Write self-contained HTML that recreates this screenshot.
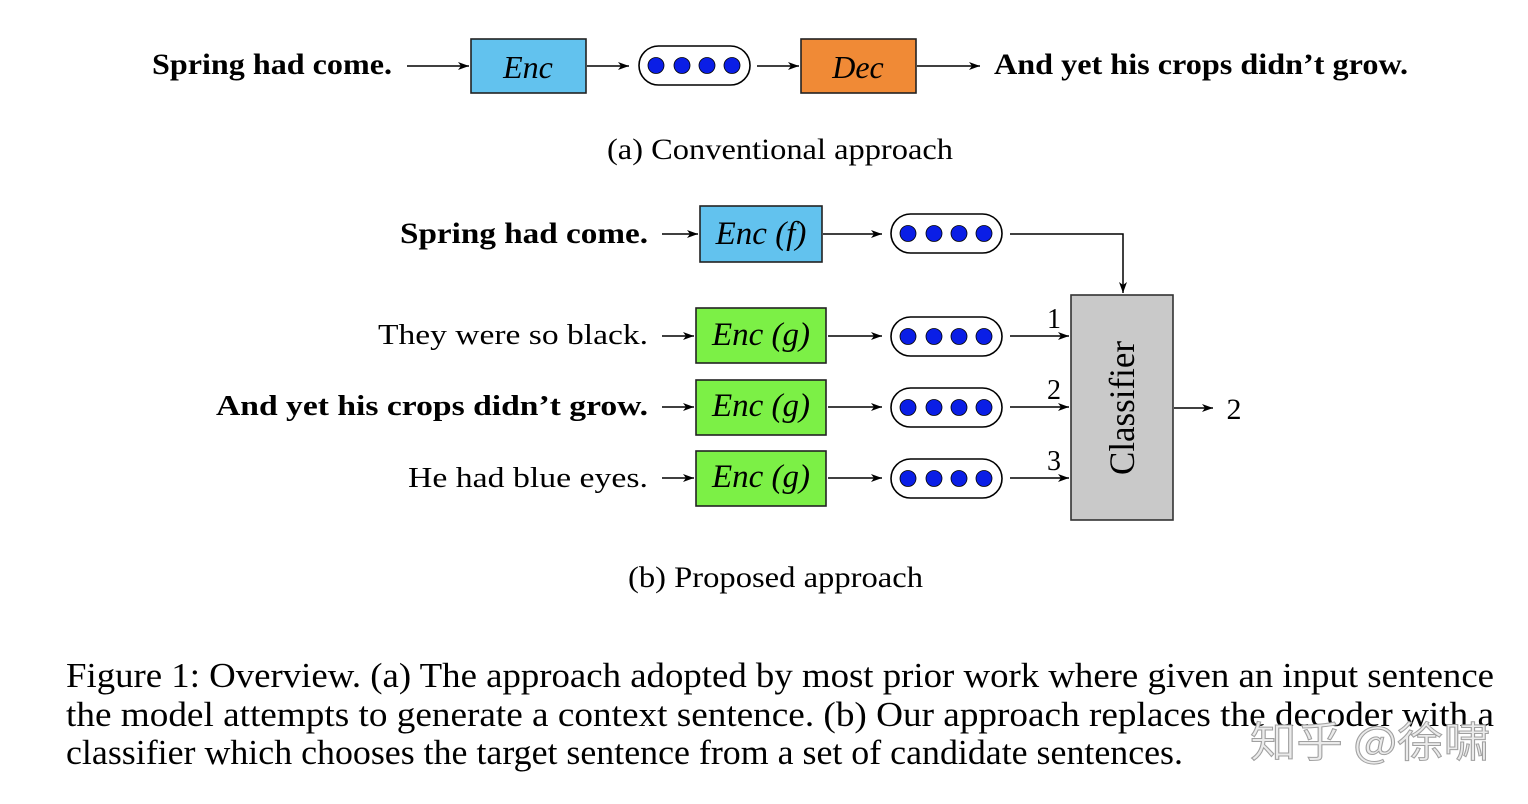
<!DOCTYPE html>
<html><head><meta charset="utf-8"><style>
html,body{margin:0;padding:0;background:#fff;}
svg{display:block}
text{font-family:"Liberation Serif",serif;fill:#000}
.b{font-weight:bold}
.i{font-style:italic}
</style></head><body>
<svg width="1528" height="804" viewBox="0 0 1528 804" xmlns="http://www.w3.org/2000/svg">
<defs>
<marker id="ah" markerWidth="12" markerHeight="10" refX="11" refY="5" orient="auto" markerUnits="userSpaceOnUse">
<path d="M0,1 L11,5 L0,9 L3,5 Z" fill="#000"/>
</marker>
<g id="pill">
<rect x="0" y="0" width="111" height="39" rx="19.5" fill="#fff" stroke="#000" stroke-width="1.6"/>
<circle cx="17" cy="19.5" r="8" fill="#0a1ee6" stroke="#000" stroke-width="0.8"/>
<circle cx="43" cy="19.5" r="8" fill="#0a1ee6" stroke="#000" stroke-width="0.8"/>
<circle cx="68" cy="19.5" r="8" fill="#0a1ee6" stroke="#000" stroke-width="0.8"/>
<circle cx="93" cy="19.5" r="8" fill="#0a1ee6" stroke="#000" stroke-width="0.8"/>
</g>
</defs>
<g stroke="#000" stroke-width="1.5" fill="none" marker-end="url(#ah)">
<line x1="407" y1="66" x2="469" y2="66"/>
<line x1="587" y1="66" x2="629" y2="66"/>
<line x1="757" y1="66" x2="799" y2="66"/>
<line x1="917" y1="66" x2="980" y2="66"/>
<line x1="662" y1="234" x2="698" y2="234"/>
<line x1="823" y1="234" x2="882" y2="234"/>
<polyline points="1010,234 1123,234 1123,293"/>
<line x1="662" y1="336" x2="694" y2="336"/>
<line x1="662" y1="407" x2="694" y2="407"/>
<line x1="662" y1="478" x2="694" y2="478"/>
<line x1="828" y1="336" x2="882" y2="336"/>
<line x1="828" y1="407" x2="882" y2="407"/>
<line x1="828" y1="478" x2="882" y2="478"/>
<line x1="1010" y1="336" x2="1069" y2="336"/>
<line x1="1010" y1="407" x2="1069" y2="407"/>
<line x1="1010" y1="478" x2="1069" y2="478"/>
<line x1="1174" y1="408" x2="1213" y2="408"/>
</g>
<text x="152" y="74" font-size="30" class="b" textLength="240" lengthAdjust="spacingAndGlyphs">Spring had come.</text>
<rect x="471" y="39" width="115" height="54" fill="#62c2ee" stroke="#222" stroke-width="1.6"/>
<text x="528" y="78" font-size="32" class="i" text-anchor="middle">Enc</text>
<use href="#pill" x="639" y="46"/>
<rect x="801" y="39" width="115" height="54" fill="#f08a36" stroke="#222" stroke-width="1.6"/>
<text x="858" y="78" font-size="32" class="i" text-anchor="middle">Dec</text>
<text x="994" y="74" font-size="30" class="b" textLength="414" lengthAdjust="spacingAndGlyphs">And yet his crops didn’t grow.</text>
<text x="607" y="159" font-size="30" textLength="346" lengthAdjust="spacingAndGlyphs">(a) Conventional approach</text>

<text x="400" y="243" font-size="30" class="b" textLength="248" lengthAdjust="spacingAndGlyphs">Spring had come.</text>
<rect x="700" y="206" width="122" height="56" fill="#62c2ee" stroke="#222" stroke-width="1.6"/>
<text x="761" y="244" font-size="33" class="i" text-anchor="middle">Enc (f)</text>
<use href="#pill" x="891" y="214"/>

<text x="378" y="344" font-size="29" textLength="270" lengthAdjust="spacingAndGlyphs">They were so black.</text>
<text x="216" y="415" font-size="29" class="b" textLength="432" lengthAdjust="spacingAndGlyphs">And yet his crops didn’t grow.</text>
<text x="408" y="487" font-size="29" textLength="240" lengthAdjust="spacingAndGlyphs">He had blue eyes.</text>

<rect x="696" y="308" width="130" height="55" fill="#7cf046" stroke="#222" stroke-width="1.6"/>
<rect x="696" y="380" width="130" height="55" fill="#7cf046" stroke="#222" stroke-width="1.6"/>
<rect x="696" y="451" width="130" height="55" fill="#7cf046" stroke="#222" stroke-width="1.6"/>
<text x="761" y="345" font-size="33" class="i" text-anchor="middle">Enc (g)</text>
<text x="761" y="416" font-size="33" class="i" text-anchor="middle">Enc (g)</text>
<text x="761" y="487" font-size="33" class="i" text-anchor="middle">Enc (g)</text>
<use href="#pill" x="891" y="317"/>
<use href="#pill" x="891" y="388"/>
<use href="#pill" x="891" y="459"/>

<text x="1054" y="328" font-size="28" text-anchor="middle">1</text>
<text x="1054" y="399" font-size="28" text-anchor="middle">2</text>
<text x="1054" y="470" font-size="28" text-anchor="middle">3</text>

<rect x="1071" y="295" width="102" height="225" fill="#c9c9c9" stroke="#333" stroke-width="1.6"/>
<text transform="translate(1134,408) rotate(-90)" font-size="36" text-anchor="middle" textLength="134" lengthAdjust="spacingAndGlyphs">Classifier</text>
<text x="1234" y="419" font-size="30" text-anchor="middle">2</text>

<text x="628" y="587" font-size="30" textLength="295" lengthAdjust="spacingAndGlyphs">(b) Proposed approach</text>

<text x="66" y="687" font-size="35" textLength="1428" lengthAdjust="spacingAndGlyphs">Figure 1: Overview. (a) The approach adopted by most prior work where given an input sentence</text>
<text x="66" y="726" font-size="35" textLength="1428" lengthAdjust="spacingAndGlyphs">the model attempts to generate a context sentence. (b) Our approach replaces the decoder with a</text>
<text x="66" y="764" font-size="35" textLength="1117" lengthAdjust="spacingAndGlyphs">classifier which chooses the target sentence from a set of candidate sentences.</text>
<text x="1250" y="757" font-size="42" style="font-family:'Noto Sans CJK SC',sans-serif;fill:#ebebeb;stroke:#a0a0a0;stroke-width:1" textLength="240" lengthAdjust="spacingAndGlyphs">知乎 @徐啸</text>
</svg>
</body></html>
